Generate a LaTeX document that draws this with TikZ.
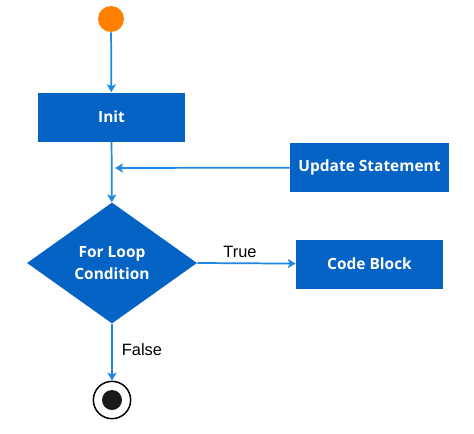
\documentclass[tikz,border=0pt]{standalone}
\usepackage{fontspec}
\setmainfont{Liberation Sans}
\newfontfamily\boxfont{Open Sans}
\usetikzlibrary{arrows.meta,shapes.geometric}
\definecolor{boxblue}{RGB}{4,99,196}
\definecolor{lineblue}{RGB}{30,136,229}
\definecolor{startorange}{RGB}{255,128,0}
\begin{document}
\begin{tikzpicture}[x=0.75pt,y=0.75pt,
  blk/.style={rectangle, fill=boxblue, text=white, font=\boxfont\bfseries\fontsize{11.6}{13}\selectfont, inner sep=0pt},
  cond/.style={diamond, fill=boxblue, text=white, font=\boxfont\bfseries\fontsize{11.6}{16.5}\selectfont, align=center, inner sep=0pt, minimum width=127.5pt, minimum height=90.75pt},
  flow/.style={draw=lineblue, line width=1.3pt, -{Stealth[length=6pt,width=6.8pt,inset=1.5pt]}},
  lbl/.style={font=\fontsize{12.3}{14}\selectfont, inner sep=0pt}]
\useasboundingbox (0,0) rectangle (474,433);

\node[circle, fill=startorange, minimum size=19.5pt, inner sep=0pt](start) at (111,414) {};
\node[blk, minimum width=110.25pt, minimum height=36.75pt](init) at (111.5,316) {Init};
\node[blk, minimum width=119.25pt, minimum height=36.75pt](upd) at (369.5,265.5) {Update Statement};
\node[cond](loop) at (112,170) {For Loop\\Condition};
\node[blk, minimum width=110.25pt, minimum height=36.75pt](code) at (369.5,169) {Code Block};
\node[circle, draw=black, line width=1.1pt, fill=white, minimum size=28pt, inner sep=0pt](stop) at (112,33) {};
\node[circle, fill=black!90, minimum size=15pt, inner sep=0pt](dot) at (stop) {};

\coordinate (join) at (115,265);

\draw[flow] (start) -- (init);
\draw[flow] (init) -- (loop);
\draw[flow] (upd) -- (join);
\draw[flow] (loop.east) -- (code);
\draw[flow] (loop.south) -- (stop);
\node[lbl](t) at (240,181) {True};
\node[lbl](f) at (142,83) {False};
\end{tikzpicture}
\end{document}
